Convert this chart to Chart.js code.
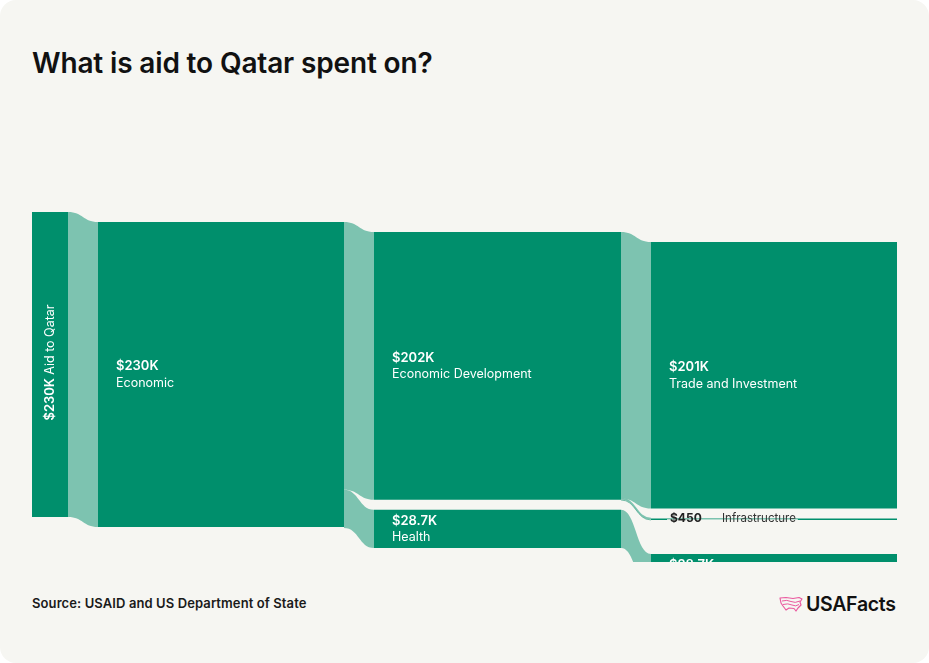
<!DOCTYPE html>
<html>
<head>
<meta charset="utf-8">
<script src="https://cdn.jsdelivr.net/npm/chart.js@4.4.1/dist/chart.umd.min.js"></script>
<style>
  html, body { margin: 0; padding: 0; background: #ffffff; }
  #card { position: relative; width: 929px; height: 663px; background: #f6f6f2; border-radius: 16px; overflow: hidden; font-family: Inter, "Noto Sans", sans-serif; }
  #title { position: absolute; left: 32px; top: 46px; margin: 0; font-size: 28px; font-weight: 600; letter-spacing: -0.15px; color: #111; white-space: nowrap; }
  #source { position: absolute; left: 32px; top: 595px; font-size: 13px; font-weight: 600; letter-spacing: 0.1px; color: #1a1a1a; white-space: nowrap; }
  #logo { position: absolute; left: 779px; top: 592px; display: flex; align-items: center; }
  #logo span { font-size: 19.5px; font-weight: 600; letter-spacing: -0.3px; color: #111; margin-left: 3px; }
  #chartWrap { position: absolute; left: 0; top: 200px; width: 929px; height: 362px; }
</style>
</head>
<body>
<div id="card">
  <h1 id="title">What is aid to Qatar spent on?</h1>
  <div id="chartWrap"><canvas id="c" width="929" height="362"></canvas></div>
  <div id="source">Source: USAID and US Department of State</div>
  <div id="logo">
    <svg width="24" height="16" viewBox="0 0 24 16">
      <path d="M1 2 L7 1.5 L14 2.5 L20 1.5 L23 3 L21 6 L22 9 L19 12 L17 15 L15 12.5 L10 12 L7 14 L4 10 L2 7 Z" fill="none" stroke="#ea5a9f" stroke-width="1.2" stroke-linejoin="round"/>
      <path d="M3 5 Q8 3.5 12 5.5 T21 5" fill="none" stroke="#ea5a9f" stroke-width="1"/>
      <path d="M4 8.5 Q9 7 13 9 T20 8.5" fill="none" stroke="#ea5a9f" stroke-width="1"/>
    </svg>
    <span>USAFacts</span>
  </div>
</div>
<script>
// ---------- DATA ($ thousands) ----------
const nodeNames   = ["Aid to Qatar", "Economic", "Economic Development", "Health", "Trade and Investment", "Infrastructure", "Basic Health"];
const nodeValues  = [230, 230, 202, 28.7, 201, 0.45, 28.7];
const nodeLabels  = ["$230K", "$230K", "$202K", "$28.7K", "$201K", "$450", "$28.7K"];
const nodeColumns = [0, 1, 2, 2, 3, 3, 3];
const linkSources = [0, 1, 1, 2, 2, 3];
const linkTargets = [1, 2, 3, 4, 5, 6];
const linkValues  = [230, 202, 28.7, 201, 0.45, 28.7];

// ---------- STYLE / LAYOUT ----------
const GREEN = "#008f6c";
const FLOW = "#7dc3b0";
const PX_PER_K = 305 / 230;
const CANVAS_W = 929, CANVAS_H = 362;
const toK = px => px / PX_PER_K;
const colLeft  = [32, 98, 374, 651];
const colWidth = [36, 246, 247, 246];
const TOP0 = 12, STAGGER = 10, GAP = 10, MIN_SLOT = 25.5;

// stack nodes in each column (value units)
const nodeTop = [], nodeBottom = [];
const cursor = colLeft.map((_, c) => toK(TOP0 + STAGGER * c));
nodeValues.forEach((v, i) => {
  const c = nodeColumns[i];
  nodeTop[i] = cursor[c];
  nodeBottom[i] = cursor[c] + v;
  cursor[c] += Math.max(v, toK(MIN_SLOT)) + toK(GAP);
});

const datasets = colLeft.map((left, c) => ({
  data: nodeValues.map((v, i) => i).filter(i => nodeColumns[i] === c)
    .map(i => ({ x: left + colWidth[c] / 2, y: [nodeTop[i], nodeBottom[i]], node: i })),
  barThickness: colWidth[c],
  backgroundColor: GREEN,
  borderWidth: 0,
  grouped: false,
  inflateAmount: 0
}));

const flowPlugin = {
  id: "flows",
  beforeDatasetsDraw(chart) {
    const { ctx, scales: { x, y } } = chart;
    const outOff = nodeValues.map(() => 0), inOff = nodeValues.map(() => 0);
    ctx.save();
    linkValues.forEach((v, k) => {
      const s = linkSources[k], t = linkTargets[k];
      const sc = nodeColumns[s], tc = nodeColumns[t];
      const x0 = x.getPixelForValue(colLeft[sc] + colWidth[sc]);
      const x1 = x.getPixelForValue(colLeft[tc]);
      const sy0 = y.getPixelForValue(nodeTop[s] + outOff[s]);
      const sy1 = y.getPixelForValue(nodeTop[s] + outOff[s] + v);
      const ty0 = y.getPixelForValue(nodeTop[t] + inOff[t]);
      const ty1 = y.getPixelForValue(nodeTop[t] + inOff[t] + v);
      outOff[s] += v; inOff[t] += v;
      const xm = (x0 + x1) / 2;
      ctx.beginPath();
      ctx.moveTo(x0, sy0);
      ctx.bezierCurveTo(xm, sy0, xm, ty0, x1, ty0);
      ctx.lineTo(x1, ty1);
      ctx.bezierCurveTo(xm, ty1, xm, sy1, x0, sy1);
      ctx.closePath();
      ctx.fillStyle = FLOW;
      ctx.fill();
      if (sy1 - sy0 < 2) {
        ctx.beginPath();
        ctx.moveTo(x0, sy0);
        ctx.bezierCurveTo(xm, sy0, xm, ty0, x1, ty0);
        ctx.strokeStyle = FLOW; ctx.lineWidth = 1.5; ctx.stroke();
        ctx.beginPath();
        ctx.moveTo(x0, sy1 + 0.8);
        ctx.bezierCurveTo(xm, sy1 + 0.8, xm, ty1 + 0.8, x1, ty1 + 0.8);
        ctx.strokeStyle = "#4faa91"; ctx.lineWidth = 0.8; ctx.stroke();
      }
    });
    ctx.restore();
  },
  afterDatasetsDraw(chart) {
    const { ctx, scales: { x, y } } = chart;
    ctx.save();
    const bold = "600 13px Inter, 'Noto Sans', sans-serif";
    const reg = "400 12.5px Inter, 'Noto Sans', sans-serif";
    ctx.textBaseline = "middle";
    nodeValues.forEach((v, i) => {
      const c = nodeColumns[i];
      const top = y.getPixelForValue(nodeTop[i]);
      const bot = y.getPixelForValue(nodeBottom[i]);
      const cy = (top + bot) / 2;
      if (c === 0) {
        const cx = x.getPixelForValue(colLeft[c] + colWidth[c] / 2);
        ctx.save();
        ctx.translate(cx, cy - 2);
        ctx.rotate(-Math.PI / 2);
        ctx.font = bold; const w1 = ctx.measureText(nodeLabels[i] + " ").width;
        ctx.font = reg; const w2 = ctx.measureText(nodeNames[i]).width;
        ctx.fillStyle = "#ffffff";
        ctx.textAlign = "left";
        ctx.font = bold; ctx.fillText(nodeLabels[i], -(w1 + w2) / 2, 0.5);
        ctx.font = reg; ctx.fillText(nodeNames[i], -(w1 + w2) / 2 + w1, 0.5);
        ctx.restore();
        return;
      }
      const lx = x.getPixelForValue(colLeft[c] + 18);
      const left = x.getPixelForValue(colLeft[c]);
      const right = x.getPixelForValue(colLeft[c] + colWidth[c]);
      ctx.textAlign = "left";
      if (bot - top < 6) {
        // tiny node: inline label with leader lines
        ctx.font = "700 12px Inter, 'Noto Sans', sans-serif";
        ctx.fillStyle = "#222222";
        ctx.fillText(nodeLabels[i], lx + 1, cy);
        const nx = x.getPixelForValue(colLeft[c] + 71);
        ctx.font = "400 11.5px Inter, 'Noto Sans', sans-serif";
        ctx.fillStyle = "#333333";
        ctx.fillText(nodeNames[i], nx, cy);
        const nw = ctx.measureText(nodeNames[i]).width;
        ctx.strokeStyle = GREEN; ctx.lineWidth = 1;
        ctx.beginPath();
        ctx.moveTo(left, Math.round(cy) + 0.5); ctx.lineTo(lx - 2, Math.round(cy) + 0.5);
        ctx.moveTo(nx + nw + 2, Math.round(cy) + 0.5); ctx.lineTo(right, Math.round(cy) + 0.5);
        ctx.stroke();
        return;
      }
      ctx.fillStyle = "#ffffff";
      ctx.font = bold;
      ctx.fillText(nodeLabels[i], lx, cy - 8);
      ctx.font = reg;
      ctx.fillText(nodeNames[i], lx, cy + 8.5);
    });
    ctx.restore();
  }
};

new Chart(document.getElementById("c"), {
  type: "bar",
  data: { datasets },
  options: {
    responsive: false,
    animation: false,
    devicePixelRatio: 1,
    layout: { padding: 0 },
    plugins: { legend: { display: false }, tooltip: { enabled: false }, title: { display: false } },
    scales: {
      x: { type: "linear", min: 0, max: CANVAS_W, display: false, offset: false },
      y: { type: "linear", min: 0, max: toK(CANVAS_H), reverse: true, display: false }
    }
  },
  plugins: [flowPlugin]
});
</script>
</body>
</html>
